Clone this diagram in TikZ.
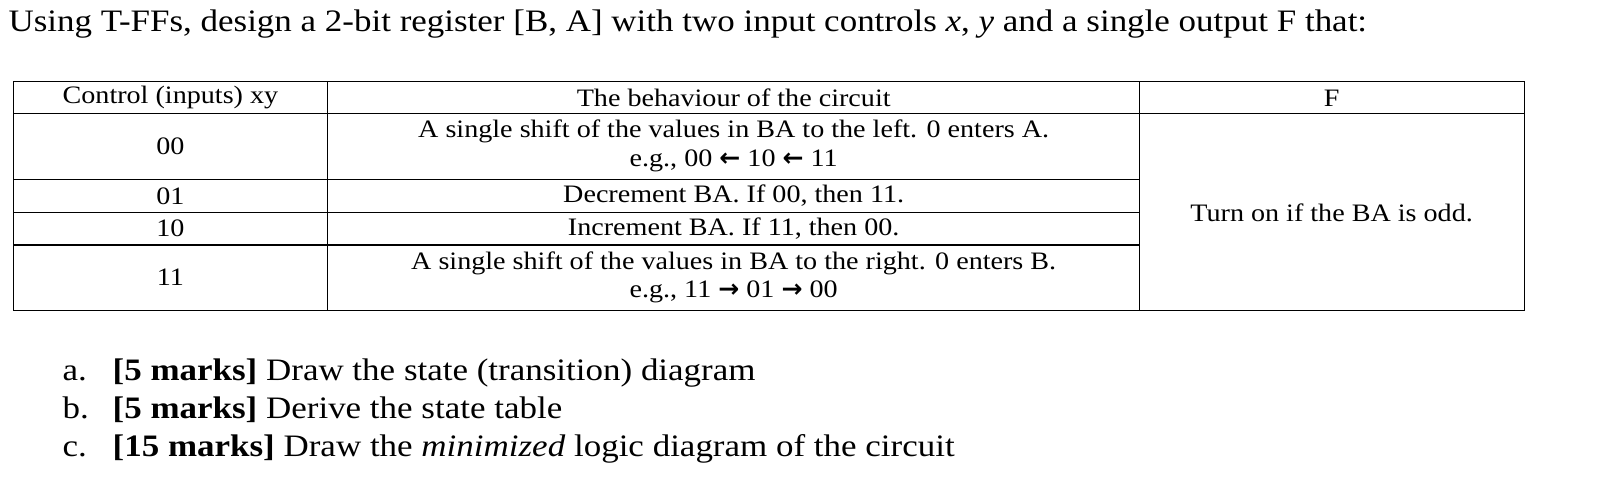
\documentclass[tikz,border=0pt]{standalone}
\usepackage{fontspec}
\setmainfont[FakeStretch=1.12]{Liberation Serif}
\newfontfamily\arrf{DejaVu Sans}
\begin{document}
\begin{tikzpicture}[x=0.5pt,y=-0.5pt,
  cell/.style={font=\fontsize{12.3}{14}\selectfont,align=center,inner sep=0pt},
  item/.style={font=\fontsize{15.3}{17}\selectfont,anchor=base west,inner sep=0pt},
  rule/.style={line width=0.6pt}]
\node[anchor=base west,inner sep=0pt,font=\fontsize{15.3}{17}\selectfont] (title) at (8,31)
  {Using T-FFs, design a 2-bit register [B, A] with two input controls \textit{x}, \textit{y} and a single output F that:};
% table
\draw[rule] (13,80) rectangle (1494,304);
\foreach \yy in {111,176,208,240} \draw[rule] (13,\yy) -- (1117,\yy);
\draw[rule] (1117,111) -- (1494,111);
\draw[rule] (321,80) -- (321,304);
\draw[rule] (1117,80) -- (1117,304);
\node[cell] (h1) at (167,96) {Control (inputs) xy};
\node[cell] (h2) at (719,96) {The behaviour of the circuit};
\node[cell] (h3) at (1305,96) {F};
\node[cell] (r1) at (167,143) {00};
\node[cell] (b1) at (719,143) {A single shift of the values in BA to the left. 0 enters A.\\e.g., 00 {\arrf\bfseries ←} 10 {\arrf\bfseries ←} 11};
\node[cell] (r2) at (167,192) {01};
\node[cell] (b2) at (719,192) {Decrement BA. If 00, then 11.};
\node[cell] (r3) at (167,224) {10};
\node[cell] (b3) at (719,224) {Increment BA. If 11, then 00.};
\node[cell] (r4) at (167,272) {11};
\node[cell] (b4) at (719,272) {A single shift of the values in BA to the right. 0 enters B.\\e.g., 11 {\arrf\bfseries →} 01 {\arrf\bfseries →} 00};
\node[cell] (f) at (1305,209) {Turn on if the BA is odd.};
% items
\node[item] (a) at (61,373) {a.};
\node[item] (at) at (110,373) {\textbf{[5 marks]} Draw the state (transition) diagram};
\node[item] (b) at (61,410) {b.};
\node[item] (bt) at (110,410) {\textbf{[5 marks]} Derive the state table};
\node[item] (c) at (61,447) {c.};
\node[item] (ct) at (110,447) {\textbf{[15 marks]} Draw the \textit{minimized} logic diagram of the circuit};
\pgfresetboundingbox
\useasboundingbox (0,0) rectangle (1568,472);
\end{tikzpicture}
\end{document}
